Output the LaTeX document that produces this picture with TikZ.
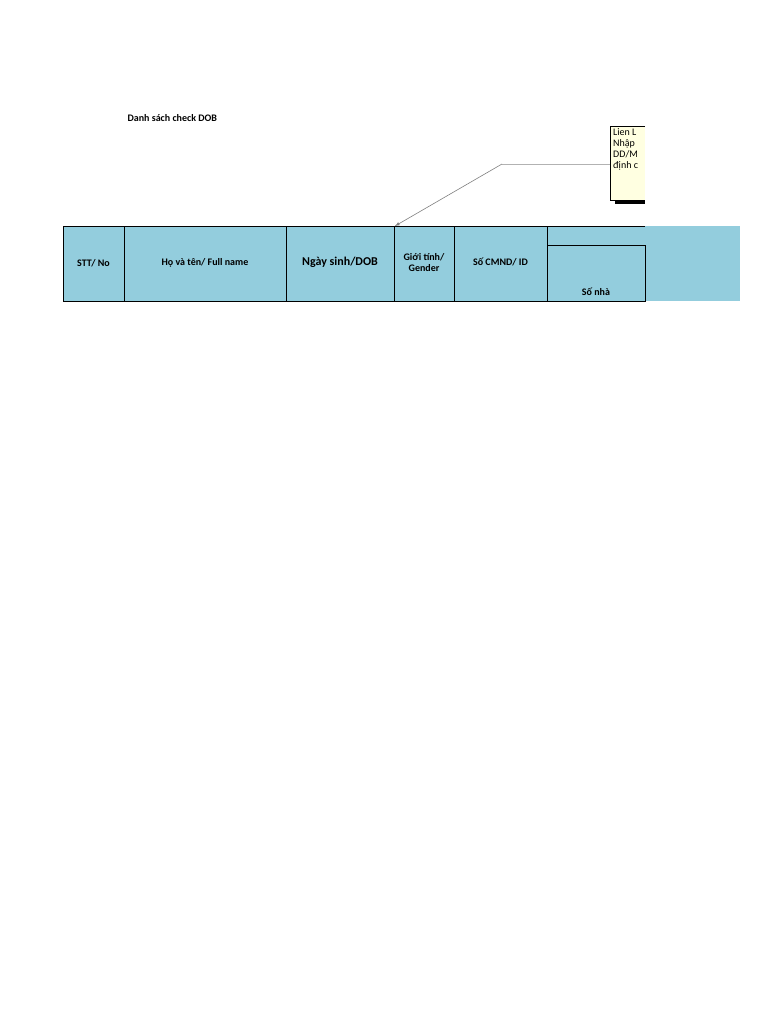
\documentclass[tikz,border=0pt]{standalone}
\usepackage{fontspec}
\setmainfont{Carlito}
\begin{document}
\begin{tikzpicture}[x=1pt,y=-1pt,
  cell/.style={draw=black,line width=0.8pt,fill=hdr},
  lab/.style={font=\bfseries\fontsize{10}{11}\selectfont,align=center},
  note/.style={font=\fontsize{10}{11}\selectfont,align=left,anchor=north west,inner sep=0pt}]
\definecolor{hdr}{HTML}{93CDDD}
\definecolor{notebg}{HTML}{FFFFE1}
\useasboundingbox (0,0) rectangle (768,1024);
\fill[white] (0,0) rectangle (768,1024);
\node[lab,anchor=west] (title) at (124,118) {Danh sách check DOB};
\fill[hdr] (547,226) rectangle (740,301);
\draw[cell] (63,226) rectangle (124,301);
\draw[cell] (124,226) rectangle (286,301);
\draw[cell] (286,226) rectangle (394,301);
\draw[cell] (394,226) rectangle (454,301);
\draw[cell] (454,226) rectangle (547,301);
\draw[cell] (547,245) rectangle (645,301);
\draw[line width=0.8pt] (547,226) -- (645,226);
\node[lab] (c1) at (93.5,263) {STT/ No};
\node[lab] (c2) at (205,263) {Họ và tên/ Full name};
\node[lab,font=\bfseries\fontsize{12}{13}\selectfont] (c3) at (340,262) {Ngày sinh/DOB};
\node[lab] (c4) at (424,263) {Giới tính/\\Gender};
\node[lab] (c5) at (500.5,262) {Số CMND/ ID};
\node[lab] (c6) at (596,292) {Số nhà};
\coordinate (tip) at (395,226);
% note
\fill[black] (615,199) rectangle (645,204);
\draw[black,fill=notebg,line width=0.6pt] (645,126) -- (610,126) -- (610,200) -- (645,200);
\begin{scope}
\clip (611,127) rectangle (645,199);
\node[note] (n1) at (613,128) {Lien L\\Nhập\\DD/M\\định c};
\end{scope}
\coordinate (bend) at (502,164);
\coordinate (nl) at (610,164);
\draw[gray!60,line width=0.6pt] (nl) -- (bend);
\draw[gray,line width=0.6pt,-latex] (bend) -- (tip);
\end{tikzpicture}
\end{document}
